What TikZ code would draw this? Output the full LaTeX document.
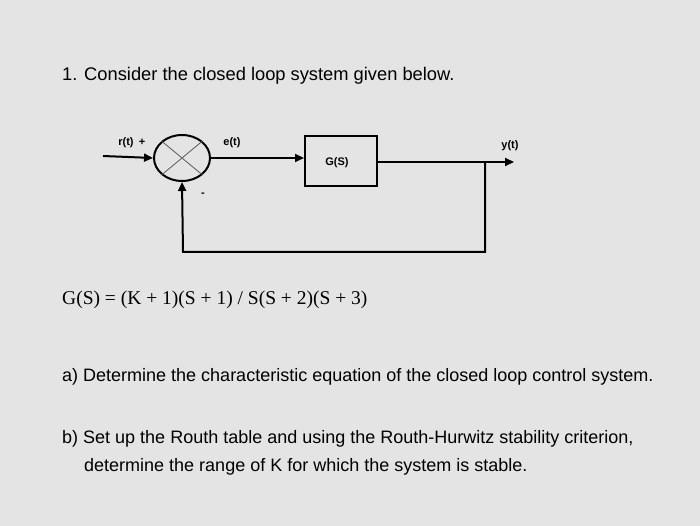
\documentclass[tikz,border=0pt]{standalone}
\usepackage{fontspec}
\setmainfont{Liberation Sans}
\newfontfamily\eqfont{Liberation Serif}
\usetikzlibrary{arrows.meta,shapes.geometric}
\definecolor{bgc}{HTML}{E4E4E4}
\begin{document}
\begin{tikzpicture}[x=1pt,y=-1pt,
  wire/.style={line width=2pt,black},
  arr/.style={wire,-{Triangle[length=9pt,width=8pt]}},
  lbl/.style={font=\fontsize{11}{13}\selectfont\bfseries,inner sep=0pt},
  txt/.style={anchor=west,inner sep=0pt,font=\fontsize{18}{21}\selectfont}]
\fill[bgc] (0,0) rectangle (700,526);
\useasboundingbox (0,0) rectangle (700,526);
\node[txt,font=\fontsize{18.3}{21}\selectfont] (title) at (62,76) {1. Consider the closed loop system given below.};
\node[draw,ellipse,line width=2pt,minimum width=56pt,minimum height=46pt] (sum) at (182,158) {};
\draw[gray!70!black,line width=0.8pt] (sum.north west)--(sum.south east) (sum.north east)--(sum.south west);
\node[draw,line width=2pt,minimum width=72pt,minimum height=50pt] (g) at (341,161) {};
\node[lbl] (gl) at (337,163) {G(S)};
\coordinate (in) at (103,156);
\coordinate (out) at (514,162);
\coordinate (tap) at (485,162);
\coordinate (c1) at (485,252);
\coordinate (c2) at (183,252);
\draw[arr] (in) -- (sum.west);
\draw[arr] (sum.east) -- (g.west|-sum.east);
\draw[arr] (g.east|-out) -- (out);
\draw[arr] (tap) -- (c1) -- (c2) -- (sum.south);
\node[lbl] (rl) at (126,143) {r(t)};
\node[lbl] (pl) at (142,142) {+};
\node[lbl] (el) at (232,143) {e(t)};
\node[lbl] (yl) at (510,146) {y(t)};
\node[lbl] (ml) at (203,195) {-};
\node[txt,font=\eqfont\fontsize{19.5}{22}\selectfont] (eq) at (62,300) {G(S) = (K + 1)(S + 1) / S(S + 2)(S + 3)};
\node[txt] (qa) at (62,377) {a) Determine the characteristic equation of the closed loop control system.};
\node[txt] (qb) at (62,439) {b) Set up the Routh table and using the Routh-Hurwitz stability criterion,};
\node[txt] (qb2) at (84,467) {determine the range of K for which the system is stable.};
\end{tikzpicture}
\end{document}
